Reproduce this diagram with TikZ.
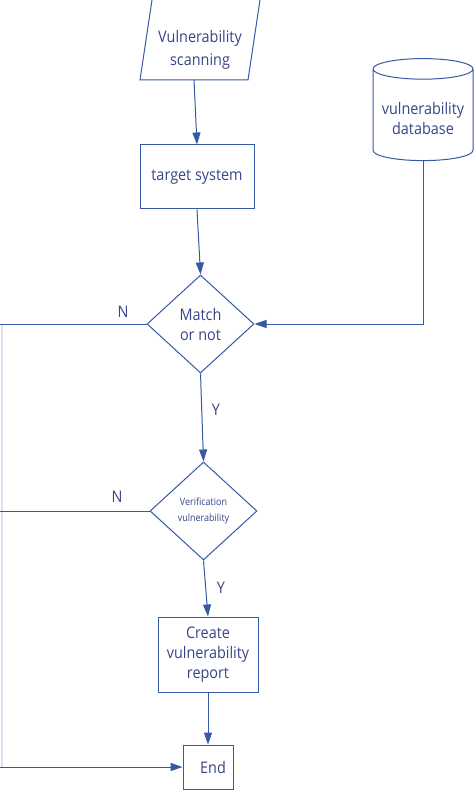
\documentclass[tikz,border=0pt]{standalone}
\usepackage{fontspec}
\setmainfont{Open Sans}[FakeStretch=0.9]
\usepackage{tikz}
\usetikzlibrary{shapes,arrows,positioning,calc,arrows.meta}
\definecolor{flowblue}{RGB}{55,88,165}
\definecolor{flowtext}{RGB}{55,68,135}
\definecolor{flowpale}{RGB}{222,224,240}
\tikzset{
  flowbox/.style={draw=flowblue, line width=1pt, text=flowtext, align=center,
    inner sep=0pt, font=\fontsize{16}{20}\selectfont},
  flowtxt/.style={text=flowtext, align=center, font=\fontsize{16}{20}\selectfont},
  decision/.style={flowbox, diamond, minimum width=107pt, minimum height=98pt},
  flowarrow/.style={draw=flowblue, line width=1pt, -{Triangle[length=12pt,width=8pt]}},
  flowline/.style={draw=flowblue, line width=1pt},
  yn/.style={flowtxt},
}

\begin{document}
\begin{tikzpicture}[x=1pt,y=-1pt]
    \useasboundingbox (0,0) rectangle (474,791);
    \clip (0,0) rectangle (474,791);

    % Input (parallelogram, top cut off)
    \draw[flowline] (140,80) -- (155,-20) -- (263,-20) -- (248,80) -- cycle;
    \coordinate (scan) at (194,80);
    \node[flowtxt, font=\fontsize{16}{23}\selectfont] (scantext) at (200,50) {Vulnerability\\scanning};

    % Boxes
    \node[flowbox, rectangle, minimum width=114pt, minimum height=64pt] (target) at (197,177) {target system};
    \node[flowbox, cylinder, shape border rotate=90, aspect=0.25,
      minimum width=100pt, minimum height=102pt] (db) at (423,115) {\mbox{}\\vulnerability\\database};

    % Decisions
    \node[decision] (match) at (200.5,324) {Match\\or not};
    \node[decision, font=\fontsize{10}{16}\selectfont] (verify) at (203.5,511) {Verification\\vulnerability};

    \node[flowbox, rectangle, minimum width=100pt, minimum height=75pt] (report) at (208,654.5) {Create\\vulnerability\\report};
    \node[flowbox, rectangle, minimum width=50pt, minimum height=44pt] (end) at (208,767) {\hspace*{10pt}End};

    % Labels
    \node[yn] (n1) at (123,312) {N};
    \node[yn] (n2) at (117,497) {N};
    \node[yn] (y1) at (216,410) {Y};
    \node[yn] (y2) at (221,588) {Y};

    \coordinate (edge) at (0,0);
    \coordinate (rail) at (2,0);

    % Main flow
    \draw[flowarrow] (scan) -- (target.north);
    \draw[flowarrow] (target.south) -- (match.north);
    \draw[flowarrow] (match.south) -- (verify.north);
    \draw[flowarrow] (verify.south) -- (report.north);
    \draw[flowarrow] (report.south) -- (end.north);
    \draw[flowarrow] (db.south) |- (match.east);

    % N branches
    \draw[draw=flowpale, line width=1.5pt] (match.west -| rail) -- (end.west -| rail);
    \draw[flowline] (match.west) -- (match.west -| edge);
    \draw[flowline] (verify.west) -- (verify.west -| edge);
    \draw[flowarrow] (end.west -| edge) -- (end.west);

\end{tikzpicture}
\end{document}
